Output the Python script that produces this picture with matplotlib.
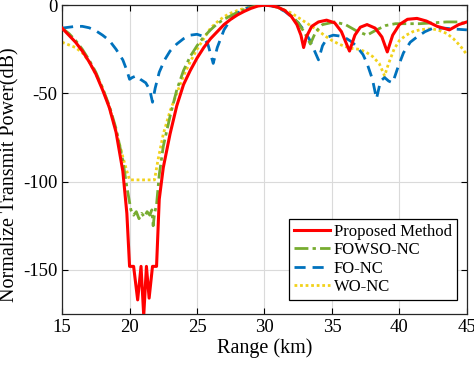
import matplotlib
matplotlib.use("Agg")
import matplotlib.pyplot as plt

plt.rcParams['font.family'] = ['Liberation Serif', 'DejaVu Serif']
plt.rcParams['axes.unicode_minus'] = False

# ---- data ----
red_x = [15, 15.5, 16, 16.5, 17, 17.5, 18, 18.5, 19, 19.5, 19.8, 20.0, 20.3, 20.6, 20.85, 21.05, 21.25,
         21.45, 21.7, 22.0, 22.2, 22.5, 23, 23.5, 24, 24.5, 25, 25.5, 26, 26.5, 27, 27.5, 28, 28.5, 29,
         29.5, 30, 30.5, 31, 31.5, 32, 32.4, 32.7, 32.9, 33.1, 33.5, 34, 34.6, 35.2, 35.7, 36.3, 36.7,
         37.1, 37.6, 38.2, 38.7, 39.1, 39.5, 40, 40.6, 41.3, 42, 42.8, 43.7, 44.4, 45]
red_y = [-13, -17, -21, -26, -32, -39, -48, -58, -72, -94, -118, -148, -148, -167, -148, -176, -148,
         -166, -148, -148, -110, -92, -73, -57, -45, -37, -30, -24, -19, -15, -11, -8, -5.5, -3.5, -1.8,
         -0.5, 0, -0.3, -1.2, -3, -6.5, -11, -17, -24, -18, -12, -9.5, -8.5, -10, -15, -26, -17,
         -12.5, -11, -13, -18, -26.5, -17, -11, -8, -7.5, -9, -12, -14, -11, -9.5]

green_x = [15, 15.5, 16, 16.5, 17, 17.5, 18, 18.5, 19, 19.5, 19.8, 20.1, 20.3, 20.5, 20.7, 20.9, 21.1,
           21.3, 21.5, 21.65, 21.75, 21.85, 22.0, 22.2, 22.5, 23, 23.5, 24, 24.5, 25, 25.5, 26, 26.5,
           27, 27.5, 28, 28.5, 29, 29.5, 30, 30.5, 31, 31.5, 32, 32.5, 33, 33.4, 33.8, 34.3, 35.2, 36,
           36.8, 37.6, 38.3, 39, 39.7, 40.5, 41.5, 42.5, 43.5, 44.3, 45]
green_y = [-13, -16, -20, -25, -31, -38, -47, -57, -70, -88, -103, -116, -119, -117, -121, -118, -120,
           -117, -119, -116, -125, -118, -113, -96, -80, -63, -48, -37, -29, -23, -18, -14, -10.5,
           -8, -6, -4, -2.5, -1.2, -0.3, 0, -0.3, -1.3, -3, -6, -10, -16, -22, -15, -11, -9.5, -11,
           -14.5, -17, -14, -11.5, -10.5, -10.5, -10.5, -10, -9.5, -9.5, -10.5]

blue_x = [15, 15.5, 16, 16.5, 17, 17.5, 18, 18.5, 19, 19.5, 19.8, 20.0, 20.2, 20.5, 20.8, 21.2, 21.5,
          21.7, 21.9, 22.2, 22.6, 23, 23.5, 24, 24.5, 25, 25.4, 25.8, 26.2, 26.5, 27, 27.5, 28, 28.5,
          29, 29.5, 30, 30.5, 31, 31.5, 32, 32.5, 32.9, 33.3, 33.6, 34.0, 34.3, 34.7, 35.1, 35.6, 36.1,
          36.5, 36.9, 37.3, 37.6, 38.0, 38.3, 38.6, 38.9, 39.2, 39.5, 39.9, 40.3, 40.8, 41.3, 41.9,
          42.5, 43.3, 44, 45]
blue_y = [-13, -12.5, -12, -12, -12.8, -14.5, -17, -20, -25, -31, -37, -42, -41, -40, -42, -44, -48,
          -55, -47, -38, -31, -26, -22, -19, -17, -16.5, -17.5, -22, -33, -24, -14, -8, -4.5, -2.2,
          -1, -0.3, 0, -0.4, -1.5, -3.5, -6.5, -10, -14, -19, -24, -31, -23, -18, -17, -17.5, -19,
          -21, -24, -28, -33, -42, -53, -43, -41, -43, -44, -35, -27, -21, -18, -15,
          -13, -13, -13.5, -14]

yellow_x = [15, 15.5, 16, 16.5, 17, 17.5, 18, 18.5, 19, 19.5, 19.8, 20.0, 20.5, 21, 21.5, 21.85, 22.1,
            22.5, 23, 23.5, 24, 24.5, 25, 25.5, 26, 26.5, 27, 27.5, 28, 28.5, 29, 29.5, 30, 30.5, 31,
            31.5, 32, 32.5, 33, 33.5, 34, 34.5, 35, 35.5, 36, 36.5, 37, 37.5, 38, 38.5, 38.9, 39.2,
            39.6, 40, 40.5, 41, 41.5, 42, 42.5, 43, 43.5, 44, 44.5, 45]
yellow_y = [-21, -22.5, -24, -27, -32, -39, -47, -58, -71, -86, -94, -99, -99, -99, -99, -99, -88,
            -73, -60, -50, -40, -32, -25, -19, -13, -9.5, -6.5, -4.5, -3, -1.8, -0.8, -0.2, 0, -0.4, -1.3,
            -2.8, -4.5, -7, -9.5, -12, -14.5, -17.5, -20, -22, -23.5, -24.5, -25, -26.5, -29, -33, -40, -33,
            -25, -20, -17, -15, -14, -13.5, -13.5, -14.5, -16, -19, -23, -28]

labels = ['Proposed Method', 'FOWSO-NC', 'FO-NC', 'WO-NC']
xticks = [15, 20, 25, 30, 35, 40, 45]
yticks = [-150, -100, -50, 0]

fig = plt.figure(figsize=(4.74, 3.69), dpi=100)
ax = fig.add_axes([0.131, 0.149, 0.854, 0.837])

ax.plot(red_x, red_y, color='#FF0000', lw=2.2, ls='-', label=labels[0], zorder=4)
ax.plot(green_x, green_y, color='#77AC30', lw=2.0, ls=(0, (5, 1.5, 1.2, 1.5)), label=labels[1], zorder=3)
ax.plot(blue_x, blue_y, color='#0072BD', lw=2.0, ls=(0, (4, 2.5)), label=labels[2], zorder=2)
ax.plot(yellow_x, yellow_y, color='#F2D21B', lw=2.0, ls=(0, (1, 1)), label=labels[3], zorder=1)

ax.set_xlim(15, 45)
ax.set_ylim(-175, 0)
ax.set_xticks(xticks)
ax.set_yticks(yticks)
ax.tick_params(direction='in', labelsize=13.5, length=4, width=0.8, top=True, right=True)
ax.grid(True, color='#DADADA', lw=0.8)
ax.set_axisbelow(True)
for s in ax.spines.values():
    s.set_linewidth(0.9)
    s.set_color('#262626')

ax.set_xlabel('Range (km)', fontsize=14.5, labelpad=2)
ax.set_ylabel('Normalize Transmit Power(dB)', fontsize=14.5)
ax.yaxis.set_label_coords(-0.105, 0.45)

leg = ax.legend(loc='lower right', bbox_to_anchor=(0.975, 0.045), fontsize=12, frameon=True,
                fancybox=False, edgecolor='black', framealpha=1, handlelength=2.2,
                handletextpad=0.2, labelspacing=0.15, borderpad=0.3, borderaxespad=0)
leg.get_frame().set_linewidth(0.9)

fig.savefig('out.png', dpi=100)
